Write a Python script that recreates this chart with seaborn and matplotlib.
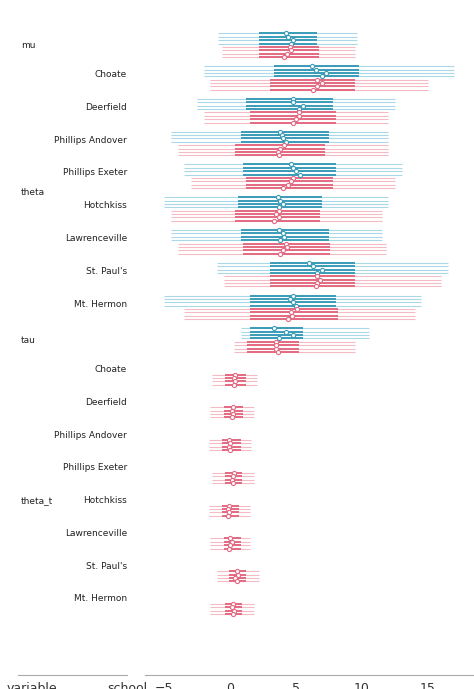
"""Forest plot of the eight schools models (centered vs non-centered)."""

import matplotlib

matplotlib.use("Agg")
import matplotlib.pyplot as plt
import pandas as pd
import seaborn as sns

schools = ["Choate", "Deerfield", "Phillips Andover", "Phillips Exeter",
           "Hotchkiss", "Lawrenceville", "St. Paul's", "Mt. Hermon"]

# per row: (hdi_lo, q25, q75, hdi_hi) and chain medians for each model
mu_c = [(-0.9, 2.2, 6.6, 9.6), [4.2, 4.4, 4.8, 4.6]]
mu_nc = [(-0.6, 2.2, 6.7, 9.5), [4.5, 4.6, 4.3, 4.1]]

theta_c_bounds = [(-2.0, 3.3, 9.8, 17.0), (-2.5, 1.2, 7.8, 12.5), (-4.5, 0.8, 7.5, 12.0),
                  (-3.5, 1.0, 8.0, 13.0), (-5.0, 0.6, 7.0, 12.0), (-4.5, 0.8, 7.5, 11.5),
                  (-1.0, 3.0, 9.5, 16.5), (-5.0, 1.5, 8.0, 14.5)]
theta_c_med = [[6.2, 6.5, 7.3, 7.0], [4.8, 4.8, 5.5, 5.2], [3.8, 3.9, 4.0, 4.2],
               [4.6, 4.8, 5.0, 5.3], [3.6, 3.8, 4.0, 3.7], [3.7, 4.0, 4.1, 3.8],
               [6.0, 6.3, 7.0, 6.6], [4.8, 4.5, 4.8, 5.0]]
theta_nc_bounds = [(-1.5, 3.0, 9.5, 15.0), (-2.0, 1.5, 8.0, 12.0), (-4.0, 0.4, 7.2, 12.0),
                   (-3.0, 1.2, 7.8, 12.5), (-4.5, 0.4, 6.8, 11.5), (-4.0, 1.0, 7.6, 11.8),
                   (-0.5, 3.0, 9.5, 16.0), (-3.5, 1.5, 8.2, 14.0)]
theta_nc_med = [[6.6, 7.0, 6.6, 6.3], [5.2, 5.2, 5.0, 4.8], [4.1, 3.8, 3.6, 3.7],
                [4.8, 4.6, 4.4, 4.0], [3.7, 3.5, 3.7, 3.3], [4.2, 4.3, 4.0, 3.8],
                [6.6, 6.8, 6.6, 6.5], [5.1, 4.6, 4.7, 4.4]]

tau_c = [(0.8, 1.5, 5.5, 10.5), [3.3, 4.2, 4.8, 3.7]]
tau_nc = [(0.3, 1.3, 5.2, 9.5), [3.5, 3.5, 3.5, 3.6]]

theta_t_bounds = [(-1.4, -0.4, 1.2, 2.0), (-1.5, -0.5, 1.0, 1.8), (-1.6, -0.6, 0.8, 1.6),
                  (-1.4, -0.4, 0.9, 1.8), (-1.6, -0.6, 0.7, 1.5), (-1.5, -0.5, 0.8, 1.5),
                  (-1.0, -0.1, 1.2, 2.2), (-1.5, -0.4, 0.9, 1.8)]
theta_t_med = [[0.4, 0.3, 0.4, 0.3], [0.2, 0.1, 0.2, 0.1], [-0.1, 0.0, -0.1, 0.0],
               [0.3, 0.2, 0.1, 0.2], [-0.1, -0.2, -0.1, -0.2], [0.0, 0.1, 0.0, -0.1],
               [0.5, 0.6, 0.4, 0.5], [0.2, 0.1, 0.3, 0.2]]

models = ["Centered", "Non centered"]
dark = {"Centered": "#3a9cb8", "Non centered": "#e36a82"}
light = {"Centered": "#a9d9e6", "Non centered": "#f6b9c6"}

rows = []


def add(row, model, bounds, medians):
    start = 0 if model == "Centered" else 4
    for k, m in enumerate(medians):
        lo, q1, q3, hi = bounds
        rows.append({"row": row, "slot": start + k, "model": model,
                     "lo": lo, "q1": q1, "q3": q3, "hi": hi, "median": m})


add(0, "Centered", *mu_c)
add(0, "Non centered", *mu_nc)
for i in range(8):
    add(1 + i, "Centered", theta_c_bounds[i], theta_c_med[i])
    add(1 + i, "Non centered", theta_nc_bounds[i], theta_nc_med[i])
add(9, "Centered", *tau_c)
add(9, "Non centered", *tau_nc)
for i in range(8):
    add(10 + i, "Non centered", theta_t_bounds[i], theta_t_med[i])

df = pd.DataFrame(rows)
df["y"] = df["row"] - 0.36 + df["slot"] * 0.103

sns.set_style("white")
fig = plt.figure(figsize=(4.74, 6.89), dpi=100)
ax_lab = fig.add_axes([0.038, 0.0203, 0.23, 0.965])
ax = fig.add_axes([0.305, 0.0203, 0.695, 0.965], sharey=ax_lab)

for model in models:
    sub = df[df["model"] == model]
    ax.hlines(sub["y"], sub["lo"], sub["hi"], color=light[model], lw=0.8)
    ax.hlines(sub["y"], sub["q1"], sub["q3"], color=dark[model], lw=1.4)
    sns.scatterplot(data=sub, x="median", y="y", ax=ax, s=9, color="white",
                    edgecolor=dark[model], linewidth=0.8, zorder=3, legend=False)

ax.set_ylim(19.22, -1.07)
ax.set_xlim(-6.5, 18.5)
ax.set_xticks([-5, 0, 5, 10, 15])
ax.set_xlabel("")
ax.set_ylabel("")
ax.tick_params(axis="y", left=False, labelleft=False)
ax.tick_params(axis="x", labelsize=9, colors="#333333", pad=2)

# label column
var_labels = {0: "mu", 4.5: "theta", 9: "tau", 13.9: "theta_t"}
for y, lab in var_labels.items():
    ax_lab.text(0, y, lab, ha="left", va="center", fontsize=6.5, color="#222222")
for i, s in enumerate(schools):
    ax_lab.text(1, 1 + i - 0.1, s, ha="right", va="center", fontsize=6.5, color="#222222")
    ax_lab.text(1, 10 + i - 0.1, s, ha="right", va="center", fontsize=6.5, color="#222222")
ax_lab.set_xlim(-0.03, 1.0)
ax_lab.set_xticks([0.1, 1.0])
ax_lab.set_xticklabels(["variable", "school"], fontsize=9, color="#333333")
ax_lab.tick_params(axis="y", left=False, labelleft=False)
ax_lab.tick_params(axis="x", length=3, colors="#999999", labelcolor="#333333", pad=2)
ax_lab.set_ylabel("")

for a in (ax, ax_lab):
    sns.despine(ax=a, left=True)
    a.spines["bottom"].set_color("#aaaaaa")
ax.tick_params(axis="x", length=3, color="#999999")

fig.savefig("out.png", dpi=100)
